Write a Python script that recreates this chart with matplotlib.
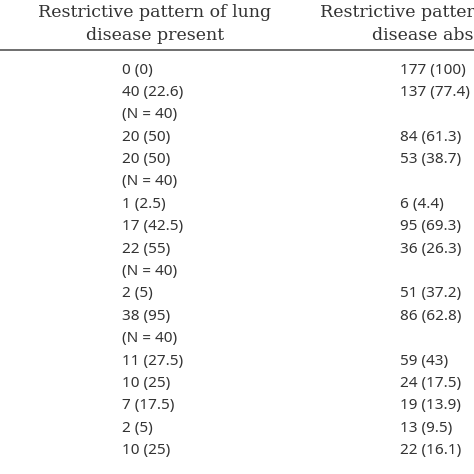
import matplotlib.pyplot as plt

present = ["0 (0)", "40 (22.6)", "(N = 40)", "20 (50)", "20 (50)", "(N = 40)",
           "1 (2.5)", "17 (42.5)", "22 (55)", "(N = 40)", "2 (5)", "38 (95)",
           "(N = 40)", "11 (27.5)", "10 (25)", "7 (17.5)", "2 (5)", "10 (25)"]
absent = ["177 (100)", "137 (77.4)", "", "84 (61.3)", "53 (38.7)", "",
          "6 (4.4)", "95 (69.3)", "36 (26.3)", "", "51 (37.2)", "86 (62.8)",
          "", "59 (43)", "24 (17.5)", "19 (13.9)", "13 (9.5)", "22 (16.1)"]

fig = plt.figure(figsize=(4.74, 4.74), dpi=100)
ax = fig.add_axes([0, 0, 1, 1])
ax.set_xlim(0, 474)
ax.set_ylim(474, 0)
ax.axis("off")

hdr = dict(fontsize=12.5, family="DejaVu Serif", color="#333333", ha="center", va="center")
ax.text(155, 12, "Restrictive pattern of lung", **hdr)
ax.text(155, 35, "disease present", **hdr)
ax.text(437, 12, "Restrictive pattern of lung", **hdr)
ax.text(437, 35, "disease absent", **hdr)
ax.plot([0, 474], [50, 50], color="#555555", lw=1.2)

for i, (p, a) in enumerate(zip(present, absent)):
    y = 70 + i * 22.4
    ax.text(122, y, p, fontsize=11, family="Noto Sans", color="#333333", va="center")
    ax.text(400, y, a, fontsize=11, family="Noto Sans", color="#333333", va="center")

fig.savefig("out.png", dpi=100)
